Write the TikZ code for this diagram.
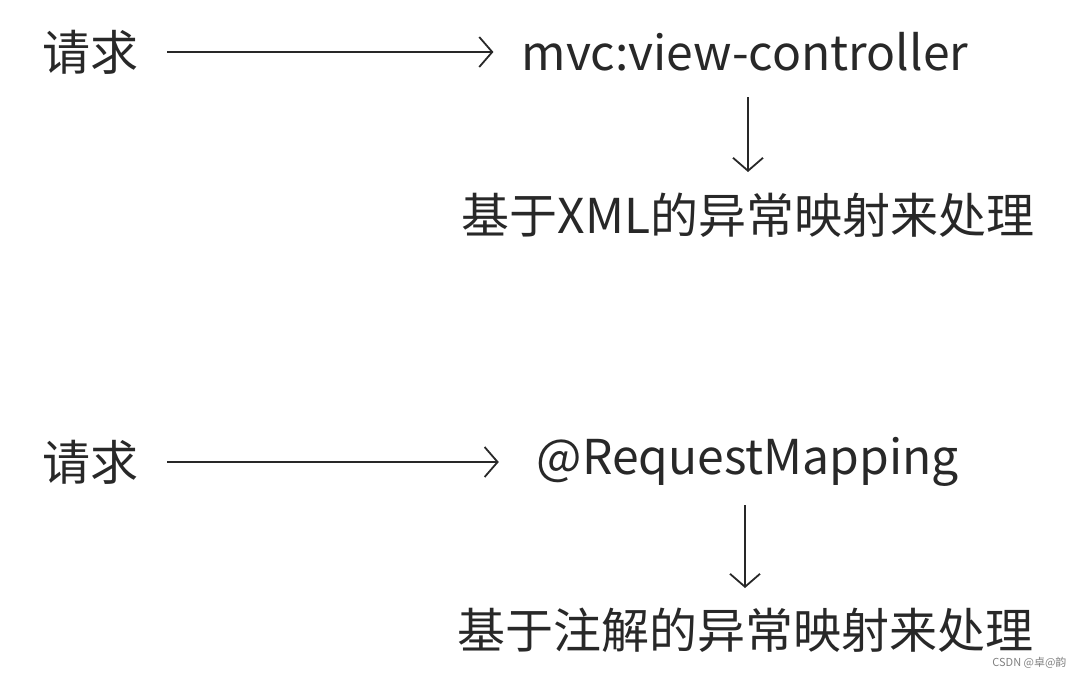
\documentclass[tikz,border=0pt]{standalone}
\usepackage{fontspec}
\setmainfont{Noto Sans CJK SC}
\usetikzlibrary{positioning,arrows.meta}
\definecolor{txtgray}{RGB}{40,40,40}
\begin{document}
\begin{tikzpicture}[x=1pt,y=-1pt,
    lbl/.style={font=\fontsize{48}{52}\selectfont, text=txtgray, inner sep=0pt},
    flow/.style={-{Straight Barb[length=13pt,width=30pt,line width=1.8pt]}, line width=1.8pt, draw=txtgray}]
    \useasboundingbox (0,0) rectangle (1076,678);
    % upper chain
    \node[lbl] (req1) at (90,52) {请求};
    \node[lbl] (mvc) at (745,52) {mvc:view-controller};
    \node[lbl] (xml) at (748,215) {基于XML的异常映射来处理};
    \coordinate (down1) at (748,97);
    \coordinate (down1end) at (748,172);
    \draw[flow, shorten <=29pt, shorten >=28pt] (req1) -- (mvc);
    \draw[flow] (down1) -- (down1end);
    % lower chain
    \node[lbl] (req2) at (90,462) {请求};
    \node[lbl] (rm) at (748,462) {@RequestMapping};
    \node[lbl] (anno) at (745,630) {基于注解的异常映射来处理};
    \coordinate (down2) at (745,505);
    \coordinate (down2end) at (745,588);
    \draw[flow, shorten <=29pt, shorten >=38pt] (req2) -- (rm);
    \draw[flow] (down2) -- (down2end);
    % watermark
    \node[font=\fontsize{11}{12}\selectfont, text=gray, anchor=south east] (mark) at (1070,672) {CSDN @卓@韵};
\end{tikzpicture}
\end{document}
